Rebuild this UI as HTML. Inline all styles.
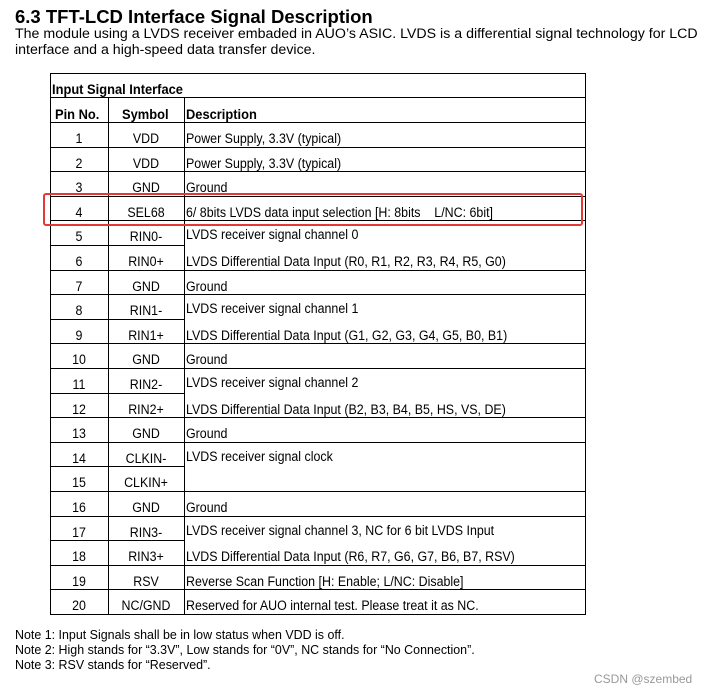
<!DOCTYPE html>
<html><head><meta charset="utf-8"><style>
body{margin:0;width:708px;height:694px;background:#fff;position:relative;overflow:hidden;font-family:"Liberation Sans",Arial,sans-serif;color:#000}
.a{position:absolute;white-space:nowrap}
.t{font-size:13.5px;transform-origin:0 50%;transform:scaleX(0.92)}
.l{position:absolute;background:#000}
</style></head><body>
<div class="a" style="left:15px;top:6px;font-size:18.5px;font-weight:bold">6.3 TFT-LCD Interface Signal Description</div>
<div class="a" style="left:15px;top:26px;font-size:14.2px;line-height:16px">The module using a LVDS receiver embaded in AUO’s ASIC. LVDS is a differential signal technology for LCD<br>interface and a high-speed data transfer device.</div>
<div id="tbl"></div>
<div class="a" style="left:43px;top:193px;width:536px;height:29px;border:2px solid #e53935;border-radius:3px"></div>
<div class="a" style="left:15px;top:628px;font-size:12.5px;line-height:15px;transform-origin:0 0;transform:scaleX(0.995)">Note 1: Input Signals shall be in low status when VDD is off.<br>Note 2: High stands for “3.3V”, Low stands for “0V”, NC stands for “No Connection”.<br>Note 3: RSV stands for “Reserved”.</div>
<div class="a" style="left:594px;top:672px;font-size:12px;color:#999">CSDN @szembed</div>
<script>
const pins=["1","2","3","4","5","6","7","8","9","10","11","12","13","14","15","16","17","18","19","20"];
const symbols=["VDD","VDD","GND","SEL68","RIN0-","RIN0+","GND","RIN1-","RIN1+","GND","RIN2-","RIN2+","GND","CLKIN-","CLKIN+","GND","RIN3-","RIN3+","RSV","NC/GND"];
const descs=["Power Supply, 3.3V (typical)","Power Supply, 3.3V (typical)","Ground","6/ 8bits LVDS data input selection [H: 8bits&nbsp;&nbsp;&nbsp; L/NC: 6bit]","LVDS receiver signal channel 0","LVDS Differential Data Input (R0, R1, R2, R3, R4, R5, G0)","Ground","LVDS receiver signal channel 1","LVDS Differential Data Input (G1, G2, G3, G4, G5, B0, B1)","Ground","LVDS receiver signal channel 2","LVDS Differential Data Input (B2, B3, B4, B5, HS, VS, DE)","Ground","LVDS receiver signal clock","","Ground","LVDS receiver signal channel 3, NC for 6 bit LVDS Input","LVDS Differential Data Input (R6, R7, G6, G7, B6, B7, RSV)","Reverse Scan Function [H: Enable; L/NC: Disable]","Reserved for AUO internal test. Please treat it as NC."];
const pairStart=[5,8,11,14,17];
const T=document.getElementById('tbl');
const L=50,R=585,C1=108,C2=184,TOP=73,H0=97,RY=122,RH=24.6;
function line(x,y,w,h,n){const d=document.createElement('div');d.className='l';d.style.cssText=`left:${x}px;top:${y}px;width:${w}px;height:${h}px`;


T.appendChild(d);}
function txt(s,x,y,cx,bold,n){const d=document.createElement('div');d.className='a t';d.innerHTML=s;d.style.top=y+'px';
if(cx){d.style.left=x+'px';d.style.width='0';d.style.display='flex';d.style.justifyContent='center';d.style.transformOrigin='50% 50%';}else d.style.left=x+'px';
if(bold){d.style.fontWeight='bold';d.style.fontSize='14px';}


T.appendChild(d);}
const bottom=RY+pins.length*RH;
line(L,TOP,R-L+1,1,'table-top-border');line(L,TOP,1,bottom-TOP+1,'table-left-border');line(R,TOP,1,bottom-TOP+1,'table-right-border');
line(L,H0,R-L,1,'title-row-border');line(L,RY,R-L,1,'header-row-border');
line(C1,H0,1,bottom-H0,'pin-column-divider');line(C2,H0,1,bottom-H0,'symbol-column-divider');
txt('Input Signal Interface',52,81,false,true,'table-title');
txt('Pin No.',55,106,false,true,'header-pin');txt('Symbol',122,106,false,true,'header-symbol');txt('Description',186,106,false,true,'header-description');
pins.forEach((p,i)=>{const y=RY+i*RH;const num=i+1;
const inPairTop=pairStart.includes(num);const inPairBot=pairStart.includes(num-1);
txt(p,79,y+9,true,false,'pin-'+p);
txt(symbols[i],146,y+9,true,false,'symbol-'+p);
let dy=y+9;if(inPairTop)dy=y+7;
if(descs[i])txt(descs[i],186,dy,false,false,'description-'+p);
const by=Math.round(y+RH);
if(inPairTop)line(L,by,C2-L,1,'row-border-'+p);else line(L,by,R-L,1,'row-border-'+p);
});
</script>
</body></html>
